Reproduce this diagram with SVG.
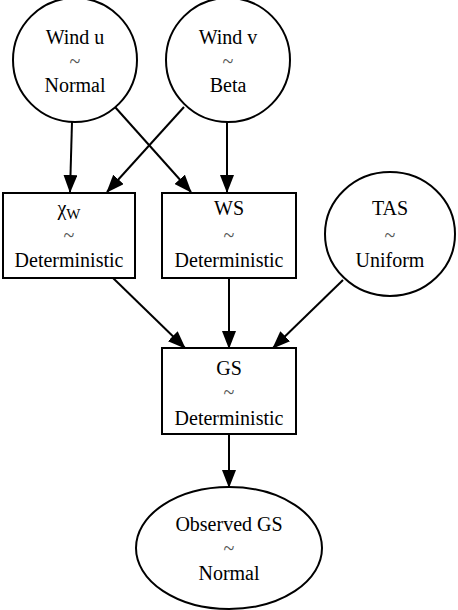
<svg xmlns="http://www.w3.org/2000/svg" width="458" height="610" viewBox="0 0 458 610">
<style>
.n{fill:#fff;stroke:#000;stroke-width:2}
.t{font-family:"Liberation Serif","Times New Roman",serif;font-size:20px;text-anchor:middle;fill:#000}
.tl{fill:#555}
.e line{stroke:#000;stroke-width:2;marker-end:url(#a)}
</style>
<defs>
<marker id="a" markerUnits="userSpaceOnUse" markerWidth="18" markerHeight="14" refX="17" refY="7" orient="auto">
<path d="M0,0 L18,7 L0,14 z" fill="#000"/>
</marker>
</defs>
<rect width="458" height="610" fill="#fff"/>
<g class="e" id="edges">
<line x1="72" y1="122" x2="70" y2="192"/>
<line x1="115" y1="107" x2="191" y2="192"/>
<line x1="184" y1="107" x2="107" y2="192"/>
<line x1="227" y1="122" x2="227" y2="192"/>
<line x1="113" y1="278" x2="185" y2="348"/>
<line x1="229" y1="278" x2="229" y2="348"/>
<line x1="343" y1="280" x2="273" y2="348"/>
<line x1="229" y1="434" x2="229" y2="487"/>
</g>
<g id="windu">
<circle class="n" cx="75" cy="60" r="62"/>
<text class="t" x="75" y="44">Wind u</text>
<text class="t tl" x="75" y="68">~</text>
<text class="t" x="75" y="92">Normal</text>
</g>
<g id="windv">
<circle class="n" cx="228" cy="60" r="62"/>
<text class="t" x="228" y="44">Wind v</text>
<text class="t tl" x="228" y="68">~</text>
<text class="t" x="228" y="92">Beta</text>
</g>
<g id="chiw">
<rect class="n" x="3" y="193" width="132" height="85"/>
<text class="t" x="69" y="215">χ<tspan font-size="15" dy="4">W</tspan></text>
<text class="t tl" x="69" y="242">~</text>
<text class="t" x="69" y="267">Deterministic</text>
</g>
<g id="ws">
<rect class="n" x="162" y="193" width="134" height="85"/>
<text class="t" x="229" y="215">WS</text>
<text class="t tl" x="229" y="242">~</text>
<text class="t" x="229" y="267">Deterministic</text>
</g>
<g id="tas">
<ellipse class="n" cx="390" cy="234" rx="65" ry="62"/>
<text class="t" x="390" y="215">TAS</text>
<text class="t tl" x="390" y="242">~</text>
<text class="t" x="390" y="267">Uniform</text>
</g>
<g id="gs">
<rect class="n" x="162" y="348" width="134" height="86"/>
<text class="t" x="229" y="375">GS</text>
<text class="t tl" x="229" y="399">~</text>
<text class="t" x="229" y="425">Deterministic</text>
</g>
<g id="obsgs">
<ellipse class="n" cx="229" cy="548" rx="93" ry="61"/>
<text class="t" x="229" y="531">Observed GS</text>
<text class="t tl" x="229" y="555">~</text>
<text class="t" x="229" y="580">Normal</text>
</g>
</svg>
